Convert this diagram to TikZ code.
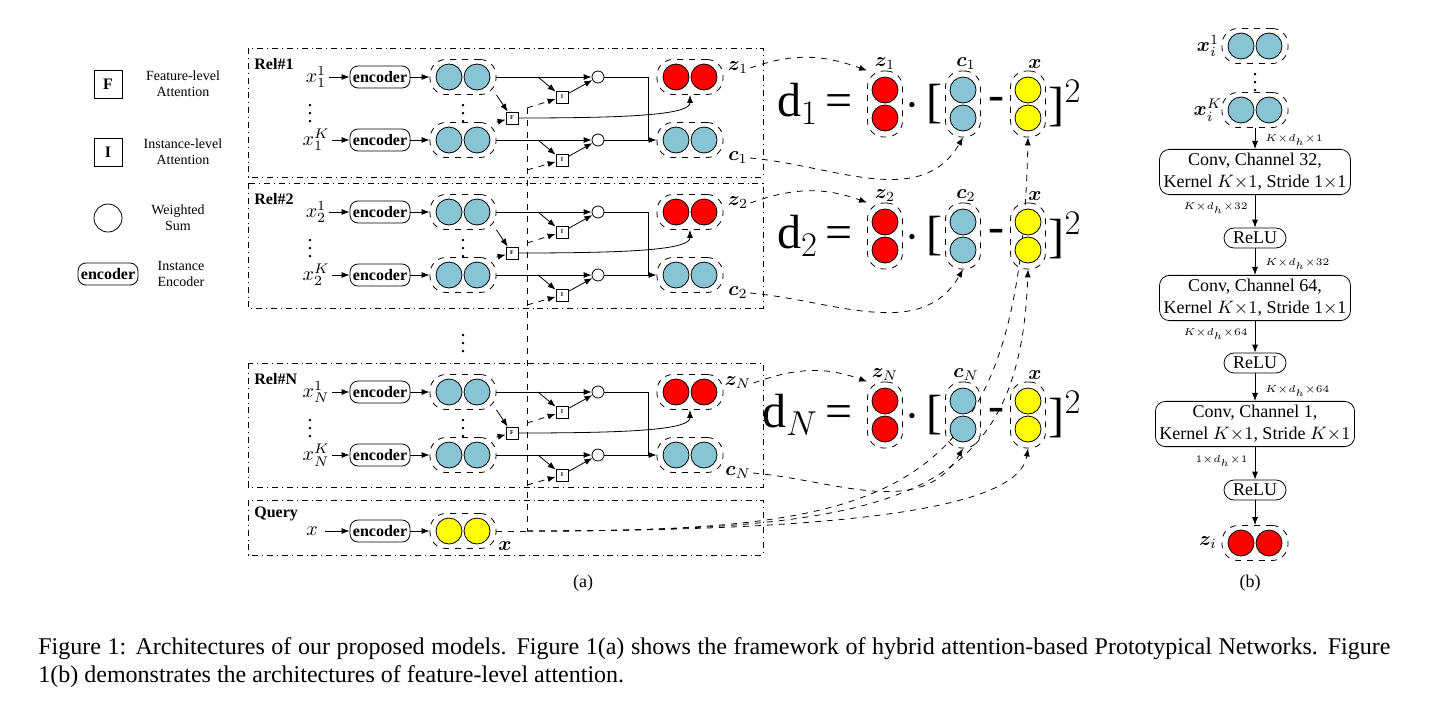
\documentclass[tikz,border=0pt]{standalone}
\usepackage{amsmath,amssymb}
\usepackage{bm}
\usepackage{fontspec}
\setmainfont{Liberation Serif}
\usetikzlibrary{arrows.meta,positioning}
\tikzset{
  ball/.style={circle, draw, fill=#1, minimum size=13pt, inner sep=0pt},
  pairbox/.style={draw, dashed, rounded corners=8pt, minimum width=33pt, minimum height=17.5pt, inner sep=0pt},
  vpairbox/.style={draw, dashed, rounded corners=8pt, minimum width=17.5pt, minimum height=33pt, inner sep=0pt},
  enc/.style={draw, rounded corners=4pt, minimum width=30pt, minimum height=11pt, inner sep=1pt, font=\footnotesize\bfseries},
  fbox/.style={draw, minimum size=6pt, inner sep=0.5pt, font=\fontsize{3}{3}\selectfont\bfseries},
  wsum/.style={circle, draw, minimum size=6pt, inner sep=0pt},
  relbox/.style={dash dot, line width=0.4pt},
  blk/.style={draw, rounded corners=5pt, align=center, font=\small, inner sep=2pt},
  dimlab/.style={font=\fontsize{5}{6}\selectfont, anchor=west, inner sep=1pt},
  eq/.style={font=\fontsize{24}{28}\selectfont},
  >={Latex[length=4pt,width=3pt]}
}
\definecolor{cblue}{RGB}{137,196,212}
\definecolor{cred}{RGB}{255,0,0}
\definecolor{cyel}{RGB}{255,255,0}
\newcommand{\hpair}[3]{\node[pairbox] (#1) at (#2) {};
  \node[ball=#3] at ([xshift=-7pt]#1.center) {};
  \node[ball=#3] at ([xshift=7pt]#1.center) {};}
\newcommand{\vpair}[3]{\node[vpairbox] (#1) at (#2) {};
  \node[ball=#3] at ([yshift=7pt]#1.center) {};
  \node[ball=#3] at ([yshift=-7pt]#1.center) {};}
\begin{document}
\begin{tikzpicture}[x=0.5pt, y=-0.5pt]
  \useasboundingbox (0,0) rectangle (1433,707);

  % legend
  \node[draw, minimum size=14pt, font=\footnotesize\bfseries] (lf) at (108,84) {F};
  \node[font=\scriptsize, align=center] (lft) at (183,84) {Feature-level\\Attention};
  \node[draw, minimum size=14pt, font=\footnotesize\bfseries] (li) at (108,152) {I};
  \node[font=\scriptsize, align=center] (lit) at (183,152) {Instance-level\\Attention};
  \node[circle, draw, minimum size=14pt] (lw) at (108,218) {};
  \node[font=\scriptsize, align=center] (lwt) at (178,218) {Weighted\\Sum};
  \node[enc] (le) at (108,274) {encoder};
  \node[font=\scriptsize, align=center] (let) at (181,274) {Instance\\Encoder};

  % relation blocks
  \foreach \r/\yt/\yb/\k in {1/48/177/1, 2/183/308/2, N/363/487/N}{
    \pgfmathsetmacro{\ya}{\yt+29}
    \pgfmathsetmacro{\yc}{\yt+92}
    \draw[relbox] (248,\yt) rectangle (763,\yb);
    \node[anchor=north west, font=\footnotesize\bfseries, inner sep=0pt] (lab\r) at (254,\yt+10) {Rel\#\k};
    \node[inner sep=1pt] (xa\r) at (316,\ya) {$x_{\k}^{1}$};
    \node[inner sep=1pt] (xb\r) at (316,\yc) {$x_{\k}^{K}$};
    \node[inner sep=0pt] (va\r) at (310,\yt+60) {$\vdots$};
    \node[enc] (ea\r) at (380,\ya) {encoder};
    \node[enc] (eb\r) at (380,\yc) {encoder};
    \hpair{pa\r}{463,\ya}{cblue}
    \hpair{pb\r}{463,\yc}{cblue}
    \node[inner sep=0pt] (vb\r) at (463,\yt+60) {$\vdots$};
    \node[fbox] (f\r) at (512,\yt+70) {F};
    \node[fbox] (ia\r) at (562,\yt+49) {I};
    \node[fbox] (ib\r) at (562,\yt+112) {I};
    \node[wsum] (sa\r) at (598,\ya) {};
    \node[wsum] (sb\r) at (598,\yc) {};
    \hpair{z\r}{690,\ya}{cred}
    \hpair{c\r}{690,\yc}{cblue}
    \node[inner sep=1pt] (zl\r) at (738,\yt+20) {$\bm{z}_{\k}$};
    \node[inner sep=1pt] (cl\r) at (738,\yt+110) {$\bm{c}_{\k}$};
    \coordinate (ja\r) at (538,\ya);
    \coordinate (jb\r) at (538,\yc);
    \coordinate (m\r) at (648,\yc);
    \coordinate (da\r) at (527,\yt+60);
    \coordinate (db\r) at (527,\yt+122);
    \draw[->] (xa\r) -- (ea\r);
    \draw[->] (xb\r) -- (eb\r);
    \draw[->] (ea\r) -- (pa\r);
    \draw[->] (eb\r) -- (pb\r);
    \draw (pa\r) -- (ja\r);
    \draw (pb\r) -- (jb\r);
    \draw[->] (ja\r) -- (sa\r);
    \draw[->] (jb\r) -- (sb\r);
    \draw[->] (ja\r) -- (ia\r);
    \draw[->] (jb\r) -- (ib\r);
    \draw[->] (ia\r) -- (sa\r);
    \draw[->] (ib\r) -- (sb\r);
    \draw[->] (pa\r.south east) -- (f\r);
    \draw[->] (pb\r.north east) -- (f\r);
    \draw (sa\r) -| (m\r);
    \draw (sb\r) -- (m\r);
    \draw[->] (m\r) -- (c\r);
    \draw[->] (f\r.east) .. controls (640,\yt+70) and (690,\yt+66) .. (z\r.south);
    \draw[dashed, ->] (da\r) -- (ia\r);
    \draw[dashed, ->] (db\r) -- (ib\r);
  }
  \node (vmid) at (463,338) {$\vdots$};

  % query
  \draw[relbox] (248,500) rectangle (763,555);
  \node[anchor=north west, font=\footnotesize\bfseries, inner sep=0pt] (labq) at (254,506) {Query};
  \node (xq) at (312,531) {$x$};
  \node[enc] (eq) at (380,531) {encoder};
  \hpair{q}{463,531}{cyel}
  \node (xql) at (505,546) {$\bm{x}$};
  \coordinate (qj) at (527,531);
  \draw[->] (xq) -- (eq);
  \draw[->] (eq) -- (q);
  \draw[dashed] (q) -- (qj);
  \draw[dashed] (da1) -- (qj);

  % distances
  \foreach \r/\y in {1/104, 2/236, N/415}{
    \node[eq, anchor=east] (d\r) at (860,\y) {d$_{\r}$\,=};
    \vpair{ez\r}{885,\y}{cred}
    \node[eq] (ob\r) at (924,\y) {$\cdot$\,[};
    \vpair{ec\r}{963,\y}{cblue}
    \node[eq] (mi\r) at (996,\y) {-};
    \vpair{ex\r}{1028,\y}{cyel}
    \node[eq] (cb\r) at (1065,\y) {]$^2$};
    \node (tz\r) at (885,\y-40) {$\bm{z}_{\r}$};
    \node (tc\r) at (966,\y-40) {$\bm{c}_{\r}$};
    \node (tx\r) at (1035,\y-40) {$\bm{x}$};
    \draw[dashed, ->] (zl\r.east) to[out=20, in=160] (ez\r.north west);
    \draw[dashed, ->] (cl\r.east) to[out=-5, in=-120] (ec\r.south);
    \draw[dashed, ->] (qj) .. controls (900,531) and (1020,500) .. (ex\r.south);
  }

  % (b) feature-level attention
  \node (bx1) at (1208,46) {$\bm{x}_{i}^{1}$};
  \hpair{b1}{1255,46}{cblue}
  \node (bv) at (1255,77) {$\vdots$};
  \node (bxk) at (1208,110) {$\bm{x}_{i}^{K}$};
  \hpair{bk}{1255,110}{cblue}
  \node[blk, minimum width=86pt] (conva) at (1255,172) {Conv, Channel 32,\\Kernel $K{\times}1$, Stride 1${\times}$1};
  \node[blk, minimum width=31pt] (relua) at (1255,238) {ReLU};
  \node[blk, minimum width=86pt] (convb) at (1255,298) {Conv, Channel 64,\\Kernel $K{\times}1$, Stride 1${\times}$1};
  \node[blk, minimum width=31pt] (relub) at (1255,363) {ReLU};
  \node[blk, minimum width=86pt] (convc) at (1255,424) {Conv, Channel 1,\\Kernel $K{\times}1$, Stride $K{\times}1$};
  \node[blk, minimum width=31pt] (reluc) at (1255,490) {ReLU};
  \hpair{bz}{1255,543}{cred}
  \node (bzl) at (1208,543) {$\bm{z}_{i}$};
  \draw[->] (bk) -- (conva);
  \draw[->] (conva) -- (relua);
  \draw[->] (relua) -- (convb);
  \draw[->] (convb) -- (relub);
  \draw[->] (relub) -- (convc);
  \draw[->] (convc) -- (reluc);
  \draw[->] (reluc) -- (bz);
  \node[dimlab] (da) at (1263,140) {$K{\times}d_h{\times}1$};
  \node[dimlab, anchor=east] (db) at (1250,208) {$K{\times}d_h{\times}32$};
  \node[dimlab] (dc) at (1263,264) {$K{\times}d_h{\times}32$};
  \node[dimlab, anchor=east] (dd) at (1250,334) {$K{\times}d_h{\times}64$};
  \node[dimlab] (de) at (1263,391) {$K{\times}d_h{\times}64$};
  \node[dimlab, anchor=east] (df) at (1250,461) {$1{\times}d_h{\times}1$};

  \node[font=\small] (capa) at (583,583) {(a)};
  \node[font=\small] (capb) at (1250,583) {(b)};
  \node[anchor=north west, text width=676pt, align=justify, inner sep=0pt, font=\fontsize{12}{14}\selectfont] (cap) at (38,637)
    {Figure 1: Architectures of our proposed models. Figure 1(a) shows the framework of hybrid attention-based Prototypical Net\-works. Figure 1(b) demonstrates the architectures of feature-level attention.};
\end{tikzpicture}
\end{document}
